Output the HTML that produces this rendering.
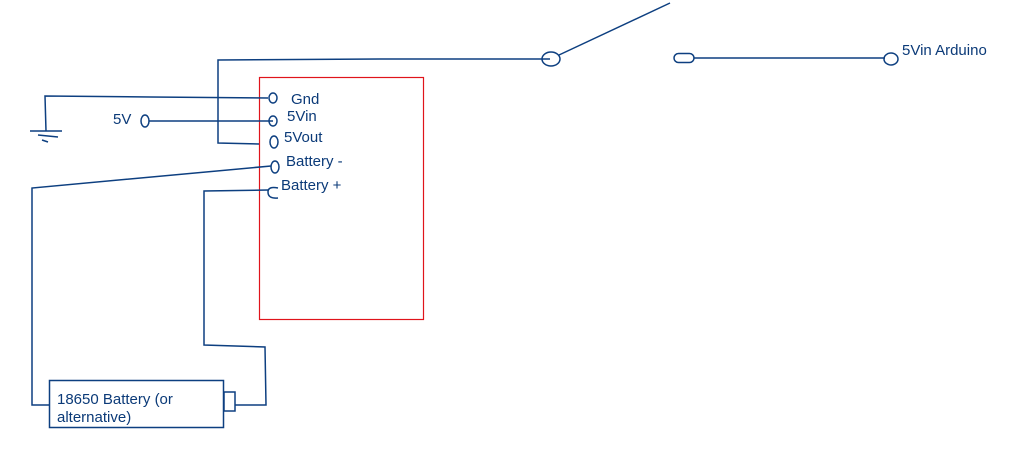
<!DOCTYPE html>
<html><head><style>body{margin:0;background:#fff}svg{display:block}text{font-family:"Liberation Sans",Arial,sans-serif;font-size:15px;fill:#0b3a78}</style></head>
<body>
<svg width="1024" height="461" viewBox="0 0 1024 461" xmlns="http://www.w3.org/2000/svg">
<g fill="none" stroke="#0d3f80" stroke-width="1.5">
<rect x="259.5" y="77.5" width="164" height="242" stroke="#e0141b" stroke-width="1.2"/>
<polyline points="550,59 380,59 218,60 218,143 259,144"/>
<polyline points="268,98 150,97 45,96 46,131"/>
<line x1="30" y1="131" x2="62" y2="131"/>
<line x1="38" y1="135" x2="58" y2="137"/>
<line x1="42" y1="140" x2="48" y2="142"/>
<ellipse cx="145" cy="121" rx="4" ry="6"/>
<line x1="149" y1="121" x2="273" y2="121"/>
<ellipse cx="273" cy="98" rx="4" ry="5"/>
<ellipse cx="273" cy="121" rx="4" ry="5"/>
<ellipse cx="274" cy="142" rx="4" ry="6"/>
<ellipse cx="275" cy="167" rx="4" ry="6"/>
<polyline points="271,166 32,188 32,405 49,405"/>
<path d="M278,188 Q268,186 268,192 Q268,199 278,198"/>
<polyline points="268,190 204,191 204,345 265,347 266,405 235,405"/>
<rect x="49.5" y="380.5" width="174" height="47"/>
<rect x="224" y="392" width="11" height="19"/>
<ellipse cx="551" cy="59" rx="9" ry="7"/>
<line x1="559" y1="55" x2="670" y2="3"/>
<rect x="674" y="53.5" width="20" height="9" rx="4.5"/>
<line x1="694" y1="58" x2="885" y2="58"/>
<ellipse cx="891" cy="59" rx="7" ry="6"/>
</g>
<text x="291" y="104">Gnd</text>
<text x="287" y="121">5Vin</text>
<text x="284" y="142">5Vout</text>
<text x="286" y="166">Battery -</text>
<text x="281" y="190">Battery +</text>
<text x="113" y="124">5V</text>
<text x="902" y="55">5Vin Arduino</text>
<text x="57" y="404">18650 Battery (or</text>
<text x="57" y="422">alternative)</text>
</svg>
</body></html>
